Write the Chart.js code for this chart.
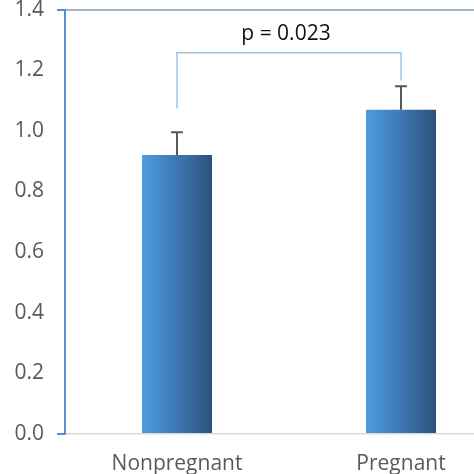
<!DOCTYPE html>
<html>
<head>
<meta charset="utf-8">
<script src="https://cdn.jsdelivr.net/npm/chart.js@4"></script>
<style>
  html, body { margin: 0; padding: 0; background: #fff; overflow: hidden; }
  #wrap { width: 513px; height: 492px; margin-top: -16px; }
</style>
</head>
<body>
<div id="wrap"><canvas id="statsChart" width="513" height="492"></canvas></div>
<script>
const groups = ['Nonpregnant', 'Pregnant'];
const means = [0.92, 1.07];
const errUp = [0.075, 0.077];
const yTicks = [0, 0.2, 0.4, 0.6, 0.8, 1.0, 1.2, 1.4];
const pLabel = 'p = 0.023';
// bracket: level, left leg end, right leg end
const bracketLevel = 1.258;
const bracketFeet = [1.074, 1.166];

const barPct = 0.3125;

function barGradient(c) {
    const chart = c.chart;
    const xs = chart.scales.x;
    if (!chart.chartArea || !xs || c.dataIndex === undefined) return '#3f7fbf';
    const cx = xs.getPixelForValue(c.dataIndex);
    const half = (xs.width / groups.length) * barPct / 2;
    const g = chart.ctx.createLinearGradient(cx - half, 0, cx + half, 0);
    g.addColorStop(0, '#4f9ae0');
    g.addColorStop(0.5, '#3d78b4');
    g.addColorStop(1, '#2a5278');
    return g;
}

const extras = {
    id: 'extras',
    afterDatasetsDraw(chart) {
        const ctx = chart.ctx;
        const xs = chart.scales.x, ys = chart.scales.y;
        ctx.save();
        // error bars (upper only)
        ctx.strokeStyle = '#595959';
        ctx.lineWidth = 2;
        means.forEach((m, i) => {
            const x = xs.getPixelForValue(i);
            const y0 = ys.getPixelForValue(m);
            const y1 = ys.getPixelForValue(m + errUp[i]);
            ctx.beginPath();
            ctx.moveTo(x, y0);
            ctx.lineTo(x, y1);
            ctx.moveTo(x - 6, y1);
            ctx.lineTo(x + 6, y1);
            ctx.stroke();
        });
        // significance bracket
        const xa = xs.getPixelForValue(0), xb = xs.getPixelForValue(1);
        const yl = ys.getPixelForValue(bracketLevel);
        ctx.strokeStyle = '#9dc3e6';
        ctx.lineWidth = 1.5;
        ctx.beginPath();
        ctx.moveTo(xa, ys.getPixelForValue(bracketFeet[0]));
        ctx.lineTo(xa, yl);
        ctx.lineTo(xb, yl);
        ctx.lineTo(xb, ys.getPixelForValue(bracketFeet[1]));
        ctx.stroke();
        ctx.fillStyle = '#111';
        ctx.font = '21px "Open Sans"';
        ctx.textAlign = 'center';
        ctx.textBaseline = 'middle';
        ctx.fillText(pLabel, (xa + xb) / 2 - 3, yl - 19);
        ctx.restore();
    }
};

new Chart(document.getElementById('statsChart'), {
    type: 'bar',
    data: {
        labels: groups,
        datasets: [{
            data: means,
            backgroundColor: barGradient,
            borderWidth: 0,
            barPercentage: barPct,
            categoryPercentage: 1
        }]
    },
    options: {
        responsive: false,
        animation: false,
        layout: { padding: { top: 9, right: 0, left: 0, bottom: 0 } },
        plugins: { legend: { display: false }, tooltip: { enabled: false } },
        scales: {
            x: {
                grid: { display: false },
                border: { display: true, color: '#d9d9d9', width: 1.5 },
                ticks: { color: '#595959', font: { family: 'Open Sans', size: 21 }, padding: 9 },
                afterFit(s) { s.height = 42; }
            },
            y: {
                min: 0,
                max: 1.4,
                afterBuildTicks(s) { s.ticks = yTicks.map(v => ({ value: v })); },
                ticks: {
                    color: '#595959',
                    font: { family: 'Open Sans', size: 21 },
                    padding: 13,
                    callback: v => v.toFixed(1)
                },
                grid: {
                    drawOnChartArea: true,
                    color: c => (c.tick && c.tick.value === 1.4) ? '#9fb4cc' : 'rgba(0,0,0,0)',
                    tickColor: c => (c.tick && (c.tick.value === 1.4 || c.tick.value === 0)) ? '#5b8fd0' : 'rgba(0,0,0,0)',
                    lineWidth: 2,
                    tickLength: 8
                },
                border: { color: '#5b8fd0', width: 2 },
                afterFit(s) { s.width = 65; }
            }
        }
    },
    plugins: [extras]
});
</script>
</body>
</html>
